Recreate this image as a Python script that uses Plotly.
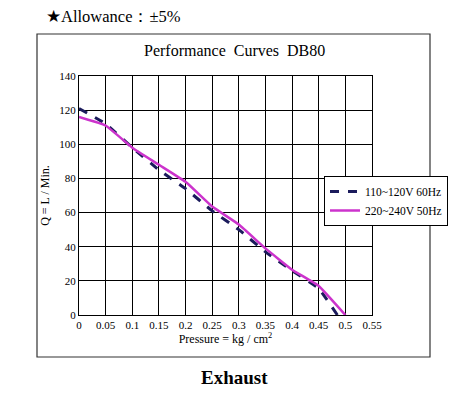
import plotly.graph_objects as go

# Data
pressure_110 = [0, 0.05, 0.1, 0.15, 0.2, 0.25, 0.3, 0.35, 0.4, 0.45, 0.485]
flow_110 = [121, 112, 98, 85, 74, 61, 50, 37, 26, 15.5, 0]
pressure_220 = [0, 0.05, 0.1, 0.15, 0.2, 0.25, 0.3, 0.35, 0.4, 0.45, 0.5]
flow_220 = [116, 111, 98, 88, 78, 63.5, 53, 39, 26.5, 17, 0]
series_names = ["110~120V 60Hz", "220~240V 50Hz"]
x_ticks = [0, 0.05, 0.1, 0.15, 0.2, 0.25, 0.3, 0.35, 0.4, 0.45, 0.5, 0.55]
x_ticklabels = ["0", "0.05", "0.1", "0.15", "0.2", "0.25", "0.3", "0.35", "0.4", "0.45", "0.5", "0.55"]
y_ticks = [0, 20, 40, 60, 80, 100, 120, 140]

SERIF = "Liberation Serif, Times New Roman, serif"

fig = go.Figure()
fig.add_trace(go.Scatter(x=pressure_110, y=flow_110, mode="lines", name=series_names[0],
                         line=dict(color="#1b1b5c", width=3, dash="dash", shape="spline", smoothing=0.3)))
fig.add_trace(go.Scatter(x=pressure_220, y=flow_220, mode="lines", name=series_names[1],
                         line=dict(color="#cc33cc", width=2.5, shape="spline", smoothing=0.3)))

# the page body has an 8px margin, so the figure is shifted by 8px
OFF = 8
W, H = 474 - OFF, 393 - OFF
# window-pixel positions of the plot area
PL, PR, PT, PB = 79, 372, 76, 315
L, T = PL - OFF, PT - OFF
R = W - (PR - OFF)
B = H - (PB - OFF)

def px(xp):
    return (xp - PL) / (PR - PL)

def py(yp):
    return (PB - yp) / (PB - PT)

fig.update_layout(
    width=W, height=H,
    margin=dict(l=L, r=R, t=T, b=B),
    paper_bgcolor="white", plot_bgcolor="white",
    font=dict(family=SERIF, color="black", size=11),
    showlegend=True,
    legend=dict(x=px(324), y=py(176), xanchor="left", yanchor="top",
                bgcolor="white", bordercolor="black", borderwidth=1,
                font=dict(family=SERIF, size=11.5, color="black"),
                tracegroupgap=0, itemwidth=30),
    xaxis=dict(range=[0, 0.55], tickvals=x_ticks, ticktext=x_ticklabels,
               showgrid=True, gridcolor="black", gridwidth=1,
               showline=True, linecolor="black", linewidth=1, mirror=True,
               zeroline=False, ticks="", tickfont=dict(size=11, family=SERIF),
               title=dict(text="Pressure = kg / cm<sup>2</sup>", font=dict(size=12, family=SERIF), standoff=3)),
    yaxis=dict(range=[0, 140], tickvals=y_ticks,
               showgrid=True, gridcolor="black", gridwidth=1,
               showline=True, linecolor="black", linewidth=1, mirror=True,
               zeroline=False, ticks="", tickfont=dict(size=11, family=SERIF),
               title=dict(text="Q = L / Min.", font=dict(size=12, family=SERIF), standoff=7)),
)

# outer frame
fig.add_shape(type="rect", xref="paper", yref="paper",
              x0=px(37), x1=px(430), y0=py(357), y1=py(34),
              line=dict(color="#333333", width=1.2), fillcolor="rgba(0,0,0,0)", layer="below")
# legend shadow
fig.add_shape(type="rect", xref="paper", yref="paper",
              x0=px(327), x1=px(430), y0=py(212), y1=py(179),
              line=dict(width=0), fillcolor="black", layer="above")

fig.add_annotation(text="Performance  Curves  DB80", xref="paper", yref="paper",
                   x=px(234), y=py(50), xanchor="center", yanchor="middle",
                   showarrow=False, font=dict(size=16, family=SERIF))
fig.add_annotation(text="★Allowance：±5%", xref="paper", yref="paper",
                   x=px(44), y=py(17), xanchor="left", yanchor="middle",
                   showarrow=False, font=dict(size=16.5, family=SERIF))
fig.add_annotation(text="<b>Exhaust</b>", xref="paper", yref="paper",
                   x=px(234), y=py(377), xanchor="center", yanchor="middle",
                   showarrow=False, font=dict(size=19, family=SERIF))

fig.write_html("out.html")
